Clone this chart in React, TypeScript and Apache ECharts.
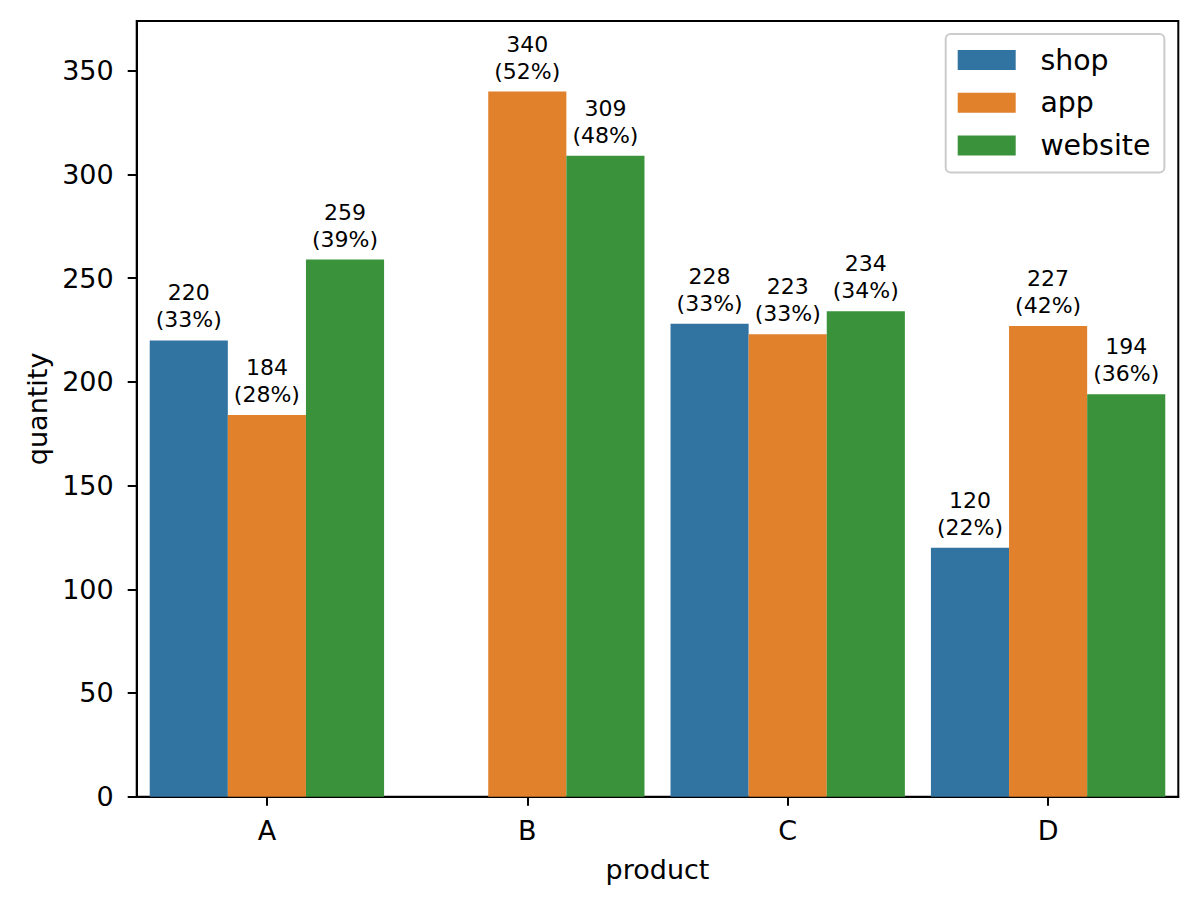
import React, { useEffect, useRef } from "react";
import * as echarts from "echarts";

const categories = ["A", "B", "C", "D"];
const shop: (number | null)[] = [220, null, 228, 120];
const app: (number | null)[] = [184, 340, 223, 227];
const website: (number | null)[] = [259, 309, 234, 194];
const yTicks = [0, 50, 100, 150, 200, 250, 300, 350];
const seriesNames = ["shop", "app", "website"];
const colors = ["#3274a1", "#e1812c", "#3a923a"];

const FONT = "DejaVu Sans";

export default function App() {
  const ref = useRef<HTMLDivElement>(null);
  useEffect(() => {
    if (!ref.current) return;
    const chart = echarts.init(ref.current, undefined, { renderer: "svg" });
    const all = [shop, app, website];
    const totals = categories.map((_, i) =>
      all.reduce((s, arr) => s + (arr[i] ?? 0), 0)
    );
    const series = all.map((arr, si) => ({
      name: seriesNames[si],
      type: "bar",
      data: arr.map((v) => (v === null ? "-" : v)),
      barGap: "0%",
      barCategoryGap: "10%",
      itemStyle: { color: colors[si] },
      label: {
        show: true,
        position: "top",
        distance: 7,
        fontFamily: FONT,
        fontSize: 22,
        lineHeight: 27,
        color: "#000",
        formatter: (p: any) => {
          const v = p.value;
          if (typeof v !== "number") return "";
          const pct = Math.round((v / totals[p.dataIndex]) * 100);
          return `${v}\n(${pct}%)`;
        },
      },
    }));
    chart.setOption({
      animation: false,
      textStyle: { fontFamily: FONT },
      grid: {
        left: 136.7,
        right: 21.7,
        top: 21,
        bottom: 110.3,
        show: true,
        borderColor: "#000",
        borderWidth: 2,
        backgroundColor: "transparent",
      },
      legend: {
        orient: "vertical",
        left: 945.7,
        top: 34,
        data: seriesNames,
        icon: "rect",
        itemWidth: 58,
        itemHeight: 20,
        itemGap: 14.7,
        padding: [12, 14, 13, 12],
        borderColor: "#cccccc",
        borderWidth: 2,
        borderRadius: 5,
        backgroundColor: "#fff",
        textStyle: {
          fontFamily: FONT,
          fontSize: 28.4,
          lineHeight: 28,
          color: "#000",
          padding: [0, 0, 0, 19.7],
        },
      },
      xAxis: {
        type: "category",
        data: categories,
        name: "product",
        nameLocation: "middle",
        nameGap: 59,
        nameTextStyle: { fontFamily: FONT, fontSize: 27, color: "#000" },
        axisLine: { show: true, lineStyle: { color: "#000", width: 2 } },
        axisTick: {
          show: true,
          alignWithLabel: true,
          length: 9,
          lineStyle: { color: "#000", width: 2 },
        },
        axisLabel: { fontFamily: FONT, fontSize: 27, color: "#000", margin: 20 },
        splitLine: { show: false },
      },
      yAxis: {
        type: "value",
        min: 0,
        max: 374,
        interval: 50,
        name: "quantity",
        nameLocation: "middle",
        nameGap: 84,
        nameTextStyle: { fontFamily: FONT, fontSize: 27, color: "#000" },
        axisLine: { show: true, lineStyle: { color: "#000", width: 2 } },
        axisTick: {
          show: true,
          length: 9,
          customValues: yTicks,
          lineStyle: { color: "#000", width: 2 },
        },
        axisLabel: {
          fontFamily: FONT,
          fontSize: 27,
          color: "#000",
          margin: 23,
          customValues: yTicks,
        },
        splitLine: { show: false },
      },
      series,
    });
    return () => chart.dispose();
  }, []);
  return (
    <div
      ref={ref}
      style={{ position: "fixed", left: 0, top: 0, width: 1200, height: 907, background: "#fff" }}
    />
  );
}
